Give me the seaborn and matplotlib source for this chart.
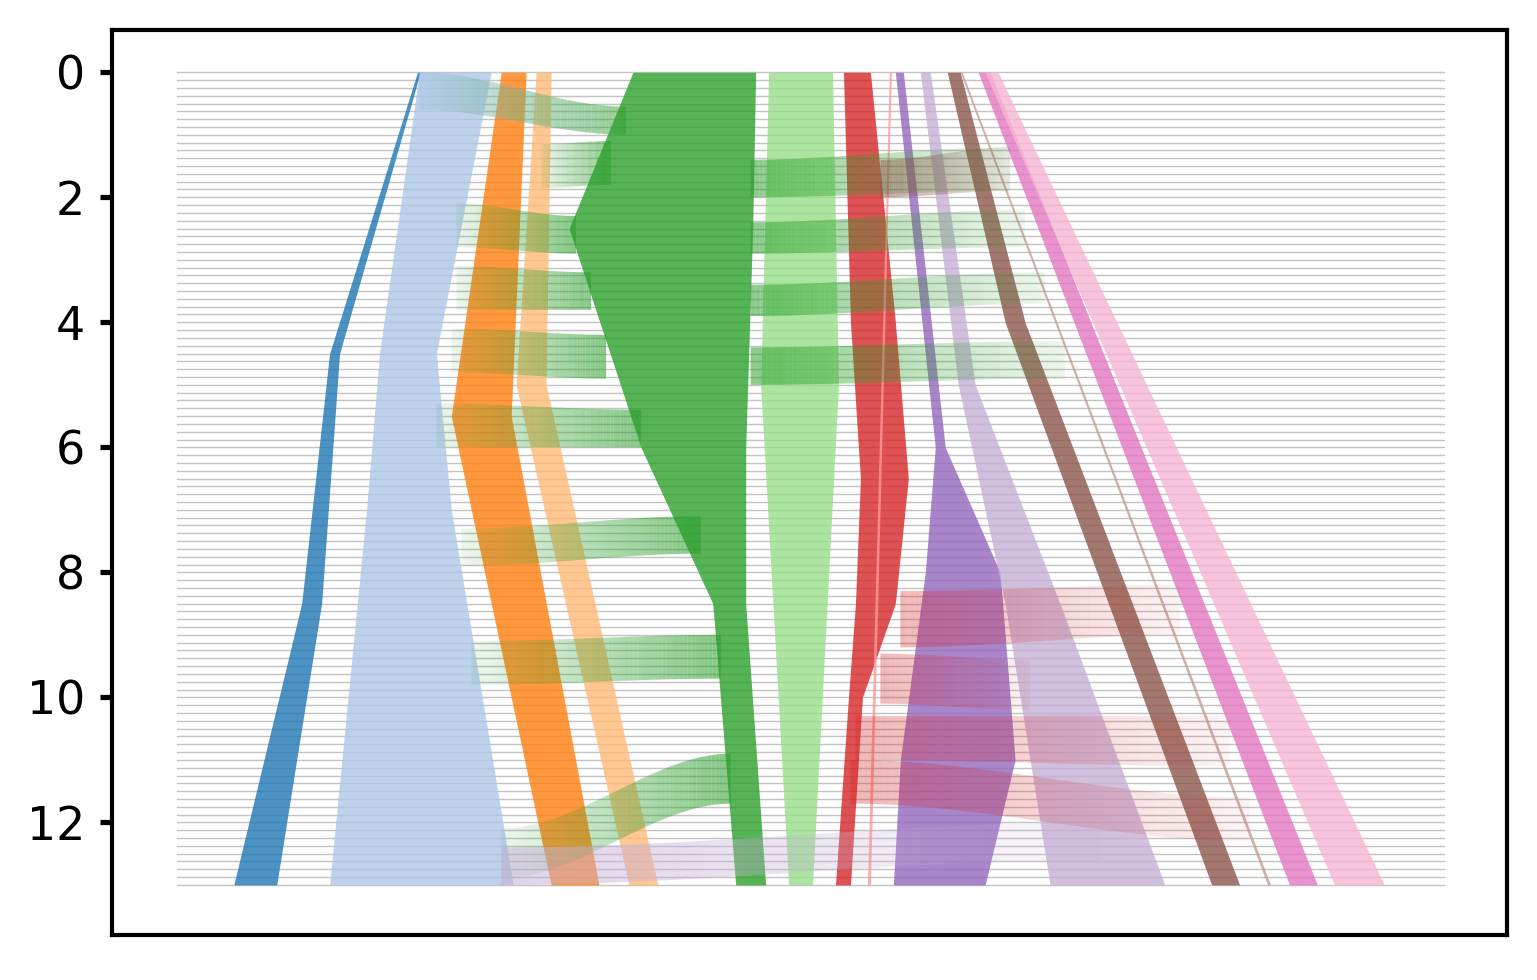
import numpy as np
import matplotlib
matplotlib.use("Agg")
import matplotlib.pyplot as plt
import seaborn as sns

# stream keyframes: (y, left, right) in horizontal chart units
streams = {
    0: [(0, 416, 419), (4.5, 328, 338), (8.5, 300, 320), (13, 232, 275)],
    1: [(0, 418, 490), (4.5, 378, 435), (7, 365, 450), (13, 328, 512)],
    2: [(0, 500, 525), (5.5, 450, 510), (13, 550, 598)],
    3: [(0, 535, 550), (5, 515, 545), (13, 628, 657)],
    4: [(0, 632, 755), (2.5, 568, 752), (6, 640, 745), (8.5, 712, 745), (13, 735, 765)],
    5: [(0, 768, 832), (5, 760, 838), (13, 788, 812)],
    6: [(0, 843, 870), (4, 850, 895), (6.5, 860, 908), (8.5, 855, 895), (10, 848, 862), (13, 835, 850)],
    7: [(0, 889, 891), (13, 867, 870)],
    8: [(0, 895, 903), (6, 935, 945), (8, 925, 1000), (11, 900, 1015), (13, 893, 985)],
    9: [(0, 920, 930), (5, 958, 975), (8.5, 1005, 1060), (13, 1050, 1165)],
    10: [(0, 947, 960), (4, 1005, 1025), (13, 1212, 1240)],
    11: [(0, 960, 962), (13, 1268, 1271)],
    12: [(0, 978, 990), (13, 1290, 1318)],
    13: [(0, 985, 998), (13, 1335, 1385)],
}

# flows: (x_start, x_end, top_start, bot_start, top_end, bot_end, color_start, color_end, strength)
flows = [
    (418, 625, 0.0, 0.6, 0.55, 1.0, 1, 4, 1.0),
    (540, 610, 1.15, 1.85, 1.1, 1.8, None, 4, 1.0),
    (455, 575, 2.1, 2.8, 2.3, 2.9, None, 4, 1.0),
    (455, 590, 3.1, 3.8, 3.2, 3.8, None, 4, 1.0),
    (450, 605, 4.1, 4.8, 4.2, 4.9, None, 4, 1.0),
    (435, 640, 5.3, 6.0, 5.4, 6.0, None, 4, 1.0),
    (460, 700, 7.3, 7.9, 7.1, 7.7, None, 4, 1.0),
    (470, 720, 9.1, 9.8, 9.0, 9.7, None, 4, 1.0),
    (500, 730, 12.1, 12.9, 10.9, 11.7, None, 4, 1.0),
    (750, 1010, 1.4, 2.0, 1.2, 1.9, 4, None, 1.0),
    (750, 1025, 2.4, 2.9, 2.2, 2.8, 4, None, 1.0),
    (750, 1045, 3.4, 3.9, 3.2, 3.7, 4, None, 1.0),
    (750, 1065, 4.4, 5.0, 4.3, 4.9, 4, None, 1.0),
    (880, 1010, 1.4, 2.0, 1.2, 1.9, 10, None, 1.0),
    (900, 1180, 8.3, 9.2, 8.2, 9.0, 6, None, 0.6),
    (880, 1030, 9.3, 10.1, 9.4, 10.2, 6, None, 0.6),
    (855, 1230, 10.3, 11.0, 10.3, 11.1, 6, None, 0.6),
    (850, 1250, 11.0, 11.7, 11.6, 12.3, 6, None, 0.6),
    (500, 1100, 12.4, 13.0, 12.0, 12.6, 9, None, 1.0),
]

grid_y = np.arange(0, 13.001, 0.125)
pal = sns.color_palette("tab20", 20)

sns.set_theme(style="ticks")
plt.rcParams["font.family"] = ["DejaVu Sans"]
fig = plt.figure(figsize=(1537 / 300, 980 / 300), dpi=300)
ax = fig.add_axes([0.0729, 0.046, 0.9076, 0.923])

# background grid lines
for y in grid_y:
    sns.lineplot(x=[175, 1445], y=[y, y], ax=ax, color="#c4c4c4", lw=0.35, zorder=1)

yy = np.linspace(0, 13, 300)
for k, pts in streams.items():
    arr = np.array(pts)
    left = np.interp(yy, arr[:, 0], arr[:, 1])
    right = np.interp(yy, arr[:, 0], arr[:, 2])
    ax.fill_betweenx(yy, left, right, color=pal[k], alpha=0.8, lw=0, zorder=2)


def smooth(t):
    return t * t * (3 - 2 * t)


for x0, x1, t0, b0, t1, b1, c0, c1, strength in flows:
    n = 60
    ts = np.linspace(0, 1, n + 1)
    base = pal[c0] if c0 is not None else pal[c1]
    end = pal[c1] if c1 is not None else pal[c0]
    for i in range(n):
        ta, tb = ts[i], ts[i + 1]
        xa, xb = x0 + (x1 - x0) * ta, x0 + (x1 - x0) * tb
        sa, sb = smooth(ta), smooth(tb)
        ya_t, yb_t = t0 + (t1 - t0) * sa, t0 + (t1 - t0) * sb
        ya_b, yb_b = b0 + (b1 - b0) * sa, b0 + (b1 - b0) * sb
        tm = (ta + tb) / 2
        col = tuple(base[j] * (1 - tm) + end[j] * tm for j in range(3))
        if c0 is None:
            alpha = 0.08 + 0.5 * tm
        elif c1 is None:
            alpha = 0.55 - 0.47 * tm
        else:
            alpha = 0.5
        ax.fill([xa, xb, xb, xa], [ya_t, yb_t, yb_b, ya_b], color=col,
                alpha=alpha * strength, lw=0, zorder=3)

ax.set_xlim(110, 1508)
ax.set_ylim(13.8, -0.67)
ax.set_yticks([0, 2, 4, 6, 8, 10, 12])
ax.set_xticks([])
ax.tick_params(axis="y", labelsize=11, length=3, colors="black")
for s in ax.spines.values():
    s.set_color("black")
    s.set_linewidth(1)
ax.set_xlabel("")
ax.set_ylabel("")
fig.savefig("out.png", dpi=300)
